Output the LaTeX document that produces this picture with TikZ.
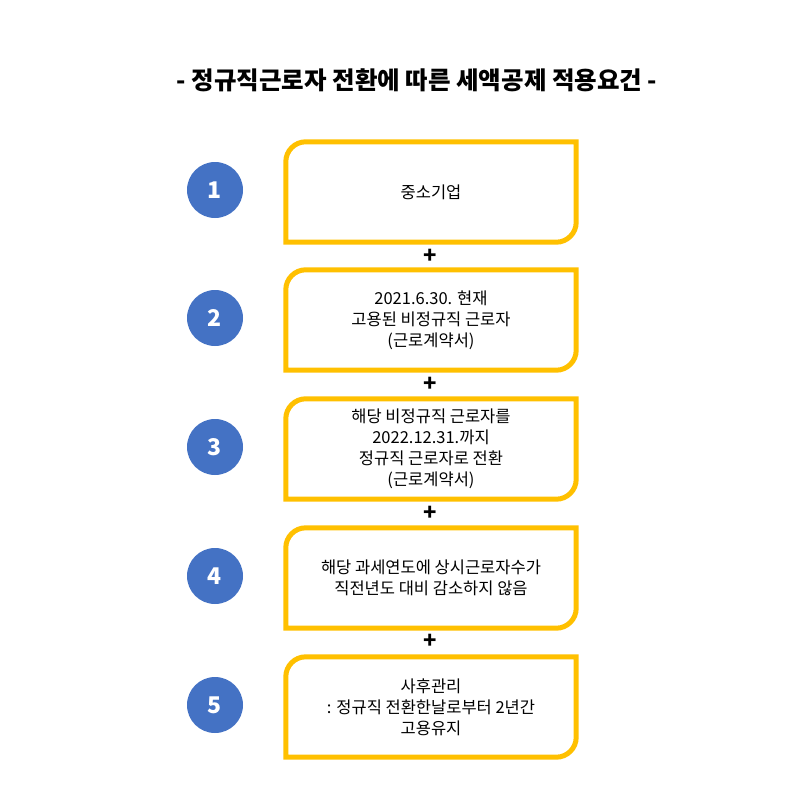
\documentclass[tikz,border=0pt]{standalone}
\usepackage{fontspec}
\setmainfont{Noto Sans CJK KR}
\definecolor{gold}{HTML}{FFC000}
\definecolor{cblue}{HTML}{4472C4}
\begin{document}
\begin{tikzpicture}[x=1pt,y=-1pt,
  boxtext/.style={minimum width=290pt,minimum height=100pt,align=center,font=\fontsize{16.5}{21}\selectfont,inner sep=0pt},
  numc/.style={circle,fill=cblue,minimum size=56pt,inner sep=0pt,text=white,font=\fontsize{23}{26}\selectfont\bfseries},
  plus/.style={font=\fontsize{22}{22}\selectfont\bfseries},
  outline/.style={draw=gold,line width=5pt}]
\useasboundingbox (0,0) rectangle (800,800);
\node[font=\fontsize{24.5}{28}\selectfont\bfseries] (title) at (417,80) {- 정규직근로자 전환에 따른 세액공제 적용요건 -};
\foreach \i/\y/\t in {1/192/{중소기업},
  2/320/{2021.6.30. 현재\\고용된 비정규직 근로자\\(근로계약서)},
  3/449/{해당 비정규직 근로자를\\2022.12.31.까지\\정규직 근로자로 전환\\(근로계약서)},
  4/578/{해당 과세연도에 상시근로자수가\\직전년도 대비 감소하지 않음},
  5/707/{사후관리\\: 정규직 전환한날로부터 2년간\\고용유지}}{
  \node[boxtext] (b\i) at (431,\y) {\t};
  \draw[outline] (b\i.west) [rounded corners=20pt] -- (b\i.north west) -- (b\i.north) [sharp corners] -- (b\i.north east) -- (b\i.east) [rounded corners=20pt] -- (b\i.south east) -- (b\i.south) [sharp corners] -- (b\i.south west) -- cycle;
  \node[numc] (n\i) at (215,\y-2) {\i};
}
\node[plus] (p1) at (430,256) {+};
\node[plus] (p2) at (430,384) {+};
\node[plus] (p3) at (430,513) {+};
\node[plus] (p4) at (430,641) {+};
\end{tikzpicture}
\end{document}
